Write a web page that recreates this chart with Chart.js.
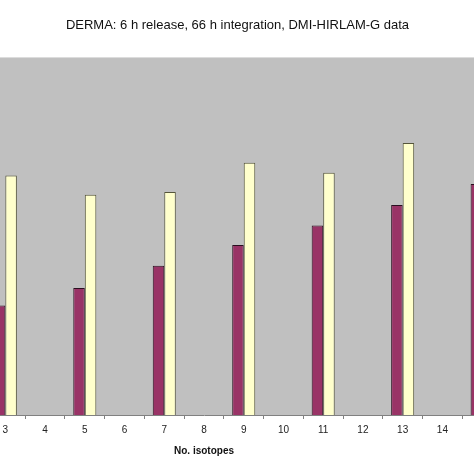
<!DOCTYPE html>
<html>
<head>
<meta charset="utf-8">
<script src="https://cdn.jsdelivr.net/npm/chart.js@4/dist/chart.umd.min.js"></script>
<style>
  html, body { margin: 0; padding: 0; background: #fff; overflow: hidden; }
  body { width: 474px; height: 474px; position: relative; }
  #wrap { position: absolute; left: -94px; top: 0; width: 663px; height: 474px; }
</style>
</head>
<body>
<div id="wrap"><canvas id="chartDerma"></canvas></div>
<script>
// number of isotopes (x categories)
const isotopes = ['1', '2', '3', '4', '5', '6', '7', '8', '9', '10', '11', '12', '13', '14', '15'];
// (arbitrary units, plot top = 100)
const seriesA = [25, null, 30.7, null, 35.6, null, 41.9, null, 47.7, null, 53.2, null, 58.9, null, 64.8];
const seriesB = [66, null, 67.2, null, 61.8, null, 62.6, null, 70.8, null, 68.0, null, 76.3, null, 78];

const plotBackground = {
    id: 'plotBackground',
    beforeDraw(chart) {
        const { ctx, chartArea: a } = chart;
        ctx.save();
        ctx.fillStyle = '#c0c0c0';
        ctx.fillRect(a.left, a.top, a.right - a.left, a.bottom - a.top);
        ctx.strokeStyle = '#a8a8a8';
        ctx.lineWidth = 1;
        ctx.beginPath();
        ctx.moveTo(a.left, a.top - 0.5);
        ctx.lineTo(a.right, a.top - 0.5);
        ctx.stroke();
        ctx.restore();
    }
};

const ctx = document.getElementById('chartDerma');
new Chart(ctx, {
    type: 'bar',
    data: {
        labels: isotopes,
        datasets: [{
            label: 'A',
            data: seriesA,
            backgroundColor: '#993366',
            borderColor: '#2a1020',
            borderWidth: 1
        }, {
            label: 'B',
            data: seriesB,
            backgroundColor: '#ffffcc',
            borderColor: '#55553a',
            borderWidth: 1
        }]
    },
    options: {
        responsive: true,
        maintainAspectRatio: false,
        animation: false,
        datasets: {
            bar: {
                categoryPercentage: 0.58,
                barPercentage: 1.0
            }
        },
        layout: {
            padding: { left: 0, right: 0, top: 0, bottom: 17 }
        },
        plugins: {
            legend: { display: false },
            tooltip: { enabled: false },
            title: {
                display: true,
                text: 'DERMA: 6 h release, 66 h integration, DMI-HIRLAM-G data',
                color: '#111',
                font: { family: 'Liberation Sans, Arial, sans-serif', size: 13, weight: 'normal' },
                padding: { top: 18, bottom: 25 }
            }
        },
        scales: {
            y: {
                display: false,
                min: 0,
                max: 100
            },
            // empty right-hand space of the original chart
            yRight: {
                type: 'linear',
                position: 'right',
                display: true,
                min: 0,
                max: 100,
                grid: { display: false },
                border: { display: false },
                ticks: { display: false },
                afterFit(scale) { scale.width = 67; }
            },
            x: {
                offset: true,
                border: { display: true, color: '#808080', width: 1 },
                grid: {
                    offset: true,
                    drawOnChartArea: false,
                    drawTicks: true,
                    tickLength: 4,
                    color: '#808080'
                },
                ticks: {
                    color: '#222',
                    padding: 5,
                    maxRotation: 0,
                    autoSkip: false,
                    font: { family: 'Liberation Sans, Arial, sans-serif', size: 10 }
                },
                title: {
                    display: true,
                    text: 'No. isotopes',
                    color: '#111',
                    padding: { top: 4, bottom: 0 },
                    font: { family: 'Liberation Sans, Arial, sans-serif', size: 10, weight: 'bold' }
                }
            }
        }
    },
    plugins: [plotBackground]
});
</script>
</body>
</html>
